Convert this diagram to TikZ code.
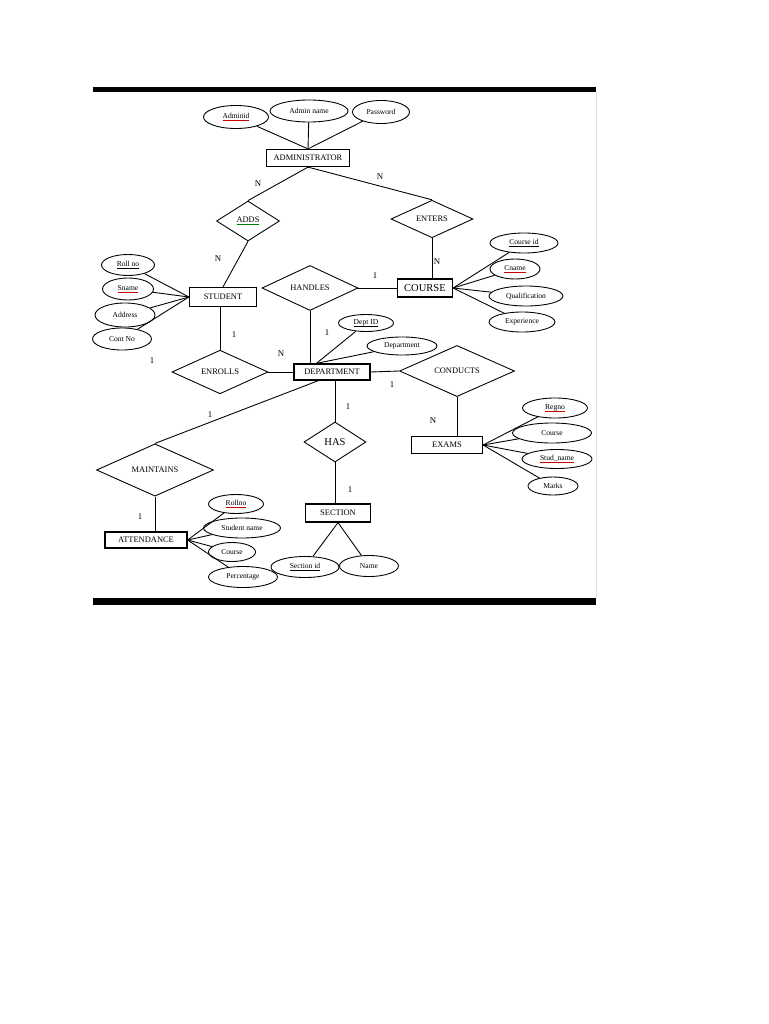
\documentclass[tikz,border=0pt]{standalone}
\usepackage{fontspec}
\setmainfont{Liberation Serif}
\usetikzlibrary{shapes.geometric}

% underlines as the spell checker drew them
\newsavebox{\ulbox}
\newcommand{\markline}[2]{\sbox{\ulbox}{#2}\leavevmode\rlap{\textcolor{#1}{\rule[-0.45ex]{\wd\ulbox}{0.35pt}}}\usebox{\ulbox}}
\newcommand{\redline}[1]{\markline{red!80!black}{#1}}
\newcommand{\greenline}[1]{\markline{green!50!black}{#1}}
\newcommand{\keyline}[1]{\markline{black}{#1}}

\begin{document}
\begin{tikzpicture}[x=0.02cm,y=-0.02cm,line width=0.5pt,
		entity/.style={draw,rectangle,inner sep=0pt,line width=0.7pt,font=\fontsize{4.8}{5}\selectfont},
		rel/.style={draw,diamond,inner sep=0pt,font=\fontsize{4.8}{5}\selectfont},
		attr/.style={draw,ellipse,inner sep=0pt,font=\fontsize{4.3}{5}\selectfont},
		card/.style={inner sep=0pt,font=\fontsize{5}{5}\selectfont}]
		\useasboundingbox (0,0) rectangle (768,1024);
		% frame
		\fill [black] (93,87) rectangle (596,92);
		\fill [black] (93,598) rectangle (596,605);
		\draw [black!12,line width=0.4pt] (596,92) -- (596,598);
		% administrator
		\node [entity,minimum width=1.66cm,minimum height=0.34cm] (admin) at (308,158) {ADMINISTRATOR};
		\node [attr,minimum width=1.3cm,minimum height=0.46cm] (adminid) at (236,117) {\redline{Adminid}};
		\node [attr,minimum width=1.56cm,minimum height=0.44cm] (adminname) at (309,111) {Admin name};
		\node [attr,minimum width=1.14cm,minimum height=0.46cm] (password) at (381,112) {Password};
		\draw (adminid) -- (admin.north);
		\draw (adminname) -- (admin.north);
		\draw (password) -- (admin.north);
		% adds / enters
		\node [rel,minimum width=1.26cm,minimum height=0.8cm] (adds) at (248,221) {\greenline{ADDS}};
		\node [rel,minimum width=1.64cm,minimum height=0.7cm] (enters) at (432,219) {ENTERS};
		\draw (admin.south) -- (adds.north);
		\draw (admin.south) -- (enters.north);
		% student
		\node [entity,minimum width=1.34cm,minimum height=0.38cm] (student) at (223,297) {STUDENT};
		\node [attr,minimum width=1.06cm,minimum height=0.42cm] (rollno) at (128,265) {\keyline{Roll no}};
		\node [attr,minimum width=1.02cm,minimum height=0.44cm] (sname) at (128,289) {\redline{Sname}};
		\node [attr,minimum width=1.2cm,minimum height=0.48cm] (address) at (125,315) {Address};
		\node [attr,minimum width=1.18cm,minimum height=0.44cm] (contno) at (122,339) {Cont No};
		\draw (adds.south) -- (student.north);
		\foreach \a in {rollno,sname,address,contno}
			\draw (\a) -- (student.west);
		% course
		\node [entity,minimum width=1.1cm,minimum height=0.36cm,font=\fontsize{6}{6}\selectfont] (course) at (425,288) {COURSE};
		\node [attr,minimum width=1.36cm,minimum height=0.4cm] (courseid) at (524,243) {\keyline{Course id}};
		\node [attr,minimum width=1cm,minimum height=0.4cm] (cname) at (515,269) {\redline{Cname}};
		\node [attr,minimum width=1.48cm,minimum height=0.4cm] (qualif) at (526,296) {Qualification};
		\node [attr,minimum width=1.32cm,minimum height=0.4cm] (exper) at (522,322) {Experience};
		\draw (enters.south) -- (enters.south |- course.north);
		\foreach \a in {courseid,cname,qualif,exper}
			\draw (\a) -- (course.east);
		% handles
		\node [rel,minimum width=1.92cm,minimum height=0.88cm] (handles) at (310,288) {HANDLES};
		\draw (handles.east) -- (course.west);
		% department
		\node [entity,minimum width=1.52cm,minimum height=0.32cm] (dept) at (332,372) {DEPARTMENT};
		\node [attr,minimum width=1.1cm,minimum height=0.34cm] (deptid) at (366,323) {\keyline{Dept ID}};
		\node [attr,minimum width=1.4cm,minimum height=0.36cm] (deptname) at (402,346) {Department};
		\draw (handles.south) -- (handles.south |- dept.north);
		\draw (deptid) -- ([xshift=0.46cm]dept.north west);
		\draw (deptname) -- ([xshift=0.46cm]dept.north west);
		% enrolls
		\node [rel,minimum width=1.92cm,minimum height=0.8cm] (enrolls) at (220,372) {ENROLLS};
		\draw (enrolls.north |- student.south) -- (enrolls.north);
		\draw (enrolls.east) -- (dept.west);
		% conducts / exams
		\node [rel,minimum width=2.3cm,minimum height=0.84cm] (conducts) at (457,371) {CONDUCTS};
		\node [entity,minimum width=1.42cm,minimum height=0.34cm] (exams) at (447,445) {EXAMS};
		\node [attr,minimum width=1.3cm,minimum height=0.4cm] (regno) at (555,408) {\redline{Regno}};
		\node [attr,minimum width=1.58cm,minimum height=0.4cm] (ecourse) at (552,433) {Course};
		\node [attr,minimum width=1.4cm,minimum height=0.38cm] (studname) at (557,459) {\redline{Stud\_name}};
		\node [attr,minimum width=1cm,minimum height=0.36cm] (marks) at (553,486) {Marks};
		\draw (dept.east) -- (conducts.west);
		\draw (conducts.south) -- (conducts.south |- exams.north);
		\foreach \a in {regno,ecourse,studname,marks}
			\draw (\a) -- (exams.east);
		% has / section
		\node [rel,minimum width=1.24cm,minimum height=0.8cm,font=\fontsize{6}{6}\selectfont] (has) at (335,442) {HAS};
		\node [entity,minimum width=1.3cm,minimum height=0.36cm] (section) at (338,513) {SECTION};
		\node [attr,minimum width=1.36cm,minimum height=0.42cm] (secid) at (305,567) {\keyline{Section id}};
		\node [attr,minimum width=1.18cm,minimum height=0.42cm] (secname) at (369,566) {Name};
		\draw (has.north |- dept.south) -- (has.north);
		\draw (has.south) -- (has.south |- section.north);
		\draw (section.south) -- (secid);
		\draw (section.south) -- (secname);
		% maintains / attendance
		\node [rel,minimum width=2.34cm,minimum height=0.9cm] (maintains) at (155,470) {MAINTAINS};
		\node [entity,minimum width=1.64cm,minimum height=0.32cm] (att) at (146,540) {ATTENDANCE};
		\node [attr,minimum width=1.1cm,minimum height=0.38cm] (arollno) at (236,504) {\redline{Rollno}};
		\node [attr,minimum width=1.54cm,minimum height=0.4cm] (studentname) at (242,528) {Student name};
		\node [attr,minimum width=0.94cm,minimum height=0.38cm] (acourse) at (232,552) {Course};
		\node [attr,minimum width=1.38cm,minimum height=0.42cm] (percent) at (243,577) {Percentage};
		\draw ([xshift=0.5cm]dept.south west) -- (maintains.north);
		\draw (maintains.south) -- (maintains.south |- att.north);
		\foreach \a in {arollno,studentname,acourse,percent}
			\draw (\a) -- (att.east);
		% cardinalities
		\node [card] (c1) at (258,184) {N};
		\node [card] (c2) at (380,177) {N};
		\node [card] (c3) at (218,259) {N};
		\node [card] (c4) at (437,262) {N};
		\node [card] (c5) at (375,276) {1};
		\node [card] (c6) at (327,333) {1};
		\node [card] (c7) at (234,335) {1};
		\node [card] (c8) at (281,354) {N};
		\node [card] (c9) at (152,361) {1};
		\node [card] (c10) at (392,385) {1};
		\node [card] (c11) at (433,421) {N};
		\node [card] (c12) at (348,407) {1};
		\node [card] (c13) at (210,415) {1};
		\node [card] (c14) at (350,490) {1};
		\node [card] (c15) at (140,517) {1};
\end{tikzpicture}
\end{document}
